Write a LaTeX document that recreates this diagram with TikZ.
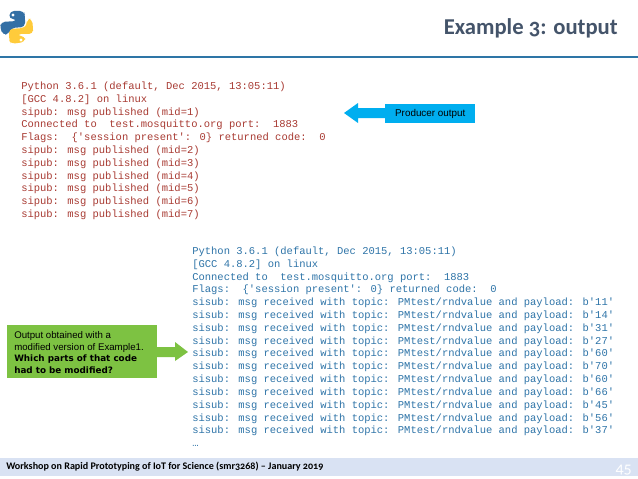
\documentclass[tikz,border=0pt]{standalone}
\usepackage{fontspec}
\setmainfont{Liberation Sans}
\newfontfamily\codefont{Liberation Mono}
\newfontfamily\headfont[Numbers=OldStyle]{Carlito}
\newfontfamily\calloutbold{DejaVu Sans}
\definecolor{coderd}{HTML}{A83A32}
\definecolor{codebl}{HTML}{2E74A8}
\definecolor{headc}{HTML}{44546A}
\definecolor{barc}{HTML}{D9E2F3}
\definecolor{rulec}{HTML}{2E75A6}
\definecolor{boxb}{HTML}{00AEEF}
\definecolor{boxg}{HTML}{7DC242}
\definecolor{pyblue}{HTML}{336FA5}
\definecolor{pyyellow}{HTML}{FFCB3B}
\tikzset{
 redcode/.style={anchor=north west,inner sep=0pt,font=\codefont\fontsize{7.87pt}{9.62pt}\selectfont,text=coderd,align=left},
 bluecode/.style={anchor=north west,inner sep=0pt,font=\codefont\fontsize{7.87pt}{9.62pt}\selectfont,text=codebl,align=left},
}
\begin{document}
\begin{tikzpicture}[x=0.75pt,y=-0.75pt]
\useasboundingbox (0,0) rectangle (638,478);
\fill[white] (0,0) rectangle (638,478);
% logo
\fill[pyblue,rounded corners=3pt] (10,11) -- (24,11) -- (25,16) -- (25,27) -- (11,28) -- (9,34) -- (3,35) -- (0,28) -- (1,22) -- (17,21) -- (17,19) -- (9,19) -- cycle;
\fill[white] (13,15) circle (1.6);
\fill[pyyellow,rounded corners=3pt] (27,19) -- (32,19) -- (33,27) -- (33,34) -- (17,34) -- (17,36) -- (25,36) -- (25,42) -- (11,44) -- (9,40) -- (9,29) -- (24,28) -- (27,25) -- cycle;
\fill[white] (21,40) circle (1.6);
% title
\node[anchor=east,inner sep=0pt,font=\headfont\bfseries\fontsize{17pt}{20pt}\selectfont,text=headc] (title) at (618,28) {Example 3: output};
\fill[rulec] (0,56) rectangle (638,58);
% code
\node[redcode] (producer) at (21,81.5) {Python 3.6.1 (default, Dec 2015, 13:05:11)\\
{[GCC 4.8.2]} on linux\\
sipub: msg published (mid=1)\\
Connected to~~test.mosquitto.org port:~~1883\\
Flags:~~\{'session present': 0\} returned code:~~0\\
sipub: msg published (mid=2)\\
sipub: msg published (mid=3)\\
sipub: msg published (mid=4)\\
sipub: msg published (mid=5)\\
sipub: msg published (mid=6)\\
sipub: msg published (mid=7)};
\node[bluecode] (consumer) at (192,246.5) {Python 3.6.1 (default, Dec 2015, 13:05:11)\\
{[GCC 4.8.2]} on linux\\
Connected to~~test.mosquitto.org port:~~1883\\
Flags:~~\{'session present': 0\} returned code:~~0\\
sisub: msg received with topic: PMtest/rndvalue and payload: b'11'\\
sisub: msg received with topic: PMtest/rndvalue and payload: b'14'\\
sisub: msg received with topic: PMtest/rndvalue and payload: b'31'\\
sisub: msg received with topic: PMtest/rndvalue and payload: b'27'\\
sisub: msg received with topic: PMtest/rndvalue and payload: b'60'\\
sisub: msg received with topic: PMtest/rndvalue and payload: b'70'\\
sisub: msg received with topic: PMtest/rndvalue and payload: b'60'\\
sisub: msg received with topic: PMtest/rndvalue and payload: b'66'\\
sisub: msg received with topic: PMtest/rndvalue and payload: b'45'\\
sisub: msg received with topic: PMtest/rndvalue and payload: b'56'\\
sisub: msg received with topic: PMtest/rndvalue and payload: b'37'\\
…};
% producer label
\fill[boxb] (344,113) -- (358,103) -- (358,108) -- (386,108) -- (386,118) -- (358,118) -- (358,123) -- cycle;
\node[anchor=north west,fill=boxb,inner sep=0pt,minimum width=67.5pt,minimum height=14.25pt,font=\fontsize{7.4pt}{9pt}\selectfont,text=black] (plabel) at (385,104) {Producer output};
% green
\fill[boxg] (156,347) -- (175,347) -- (175,342) -- (188,352) -- (175,361) -- (175,357) -- (156,357) -- cycle;
\node[anchor=north west,fill=boxg,inner sep=0pt,minimum width=112.5pt,minimum height=39.75pt] (gbox) at (7,325) {};
\node[anchor=west,inner sep=0pt,align=left,font=\fontsize{7.25pt}{8.8pt}\selectfont,text=black] (gtext) at (14,352.5) {Output obtained with a\\modified version of Example1.\\{\calloutbold\bfseries\fontsize{6.6pt}{8.8pt}\selectfont Which parts of that code}\\{\calloutbold\bfseries\fontsize{6.6pt}{8.8pt}\selectfont had to be modified?}};
% footer
\fill[barc] (0,458) rectangle (638,476);
\node[anchor=west,inner sep=0pt,font=\headfont\bfseries\fontsize{7.55pt}{9pt}\selectfont,text=black] (foot) at (6,467) {Workshop on Rapid Prototyping of IoT for Science (smr3268) – January 2019};
\node[anchor=east,inner sep=0pt,font=\headfont\fontsize{12pt}{14pt}\selectfont,text=white] (page) at (632,470) {45};
\end{tikzpicture}
\end{document}
